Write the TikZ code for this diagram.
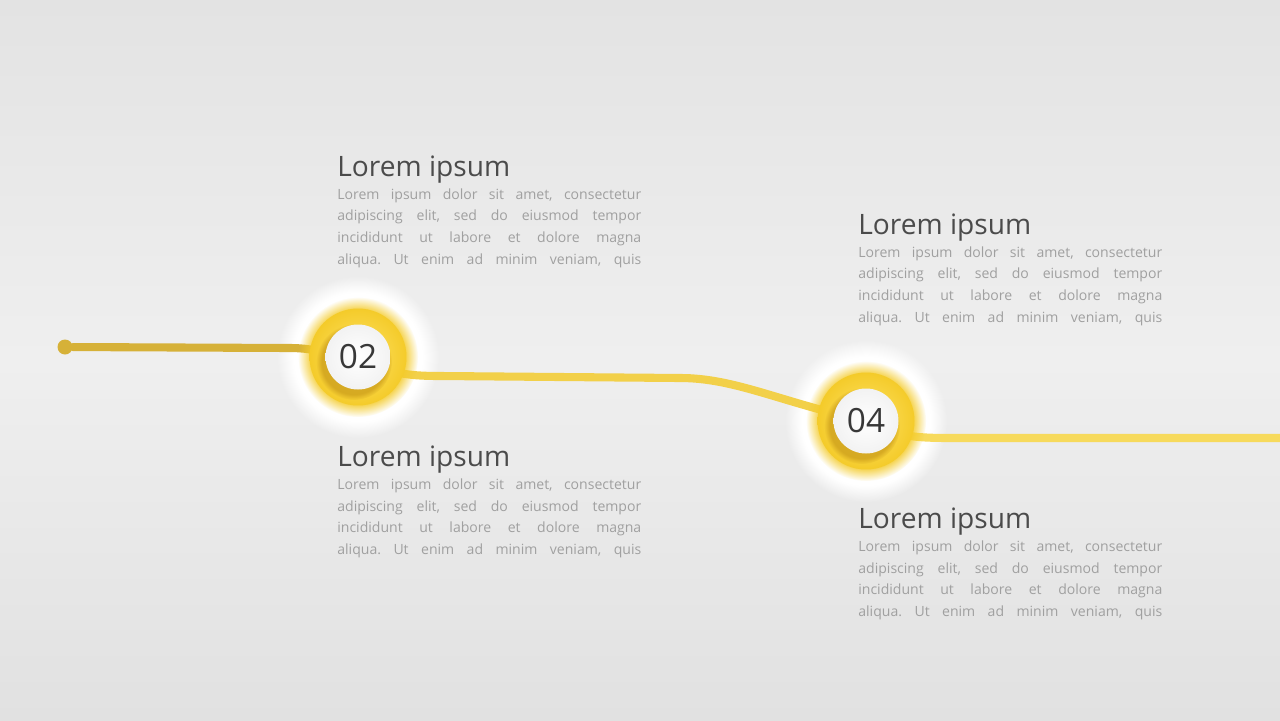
\documentclass[tikz,border=0pt]{standalone}
\usepackage{fontspec}
\setmainfont{Open Sans}
\frenchspacing
\usetikzlibrary{fadings}
\definecolor{bgtop}{HTML}{E3E3E3}
\definecolor{bgmid}{HTML}{EFEFEF}
\definecolor{bgbot}{HTML}{E1E1E1}
\definecolor{golddark}{HTML}{D6B138}
\definecolor{goldmid}{HTML}{F2D049}
\definecolor{goldlight}{HTML}{F7DA5C}
\definecolor{ringyel}{HTML}{F4CB2A}
\definecolor{ringhi}{HTML}{FFE46A}
\definecolor{ringshadow}{HTML}{C99A18}
\definecolor{headgray}{HTML}{4B4B4B}
\definecolor{bodygray}{HTML}{A0A0A0}
\definecolor{numgray}{HTML}{383838}

\begin{document}
\begin{tikzpicture}[x=0.02cm,y=-0.02cm,
    track/.style={line width=4.6pt, line cap=round},
    numdisc/.style={circle, minimum size=1.3cm, inner sep=0pt,
      inner color=white, outer color=gray!10, text=numgray,
      font=\fontsize{19}{19}\selectfont},
    head/.style={anchor=base west, inner sep=0pt, text=headgray,
      font=\fontsize{16}{16}\selectfont},
    body/.style={anchor=north west, inner sep=0pt, text width=6.08cm,
      align=justify, text=bodygray, font=\fontsize{8}{12.5}\selectfont}]
    \shade[top color=bgtop, bottom color=bgmid] (0,0) rectangle (1280,360);
    \shade[top color=bgmid, bottom color=bgbot] (0,360) rectangle (1280,720);
    \useasboundingbox (0,0) rectangle (1280,720);

    \coordinate (p02) at (358,357);
    \coordinate (p04) at (866,421);
    \coordinate (end) at (1280,438);

    \foreach \p in {p02,p04}
      \fill[white, path fading=circle with fuzzy edge 20 percent] (\p) circle[radius=1.62cm];

    \node[circle, fill=golddark, minimum size=0.3cm, inner sep=0pt] (start) at (65,347) {};
    \draw[track, golddark] (start) -- (290,348) .. controls (318,348) and (332,356) .. (p02);
    \draw[track, goldmid] (p02) .. controls (388,373) and (405,376) .. (440,376)
      -- (680,378) .. controls (735,378) and (780,402) .. (p04);
    \draw[track, goldlight] (p04) .. controls (896,436) and (912,438) .. (950,438) -- (end);

    \foreach \p in {p02,p04}{
      \fill[ringyel, opacity=0.8, path fading=circle with fuzzy edge 20 percent] (\p) circle[radius=1.2cm];
      \shade[inner color=ringhi, outer color=ringyel] (\p) circle[radius=0.97cm];
      \fill[ringshadow, opacity=0.7, path fading=circle with fuzzy edge 15 percent]
        ([shift={(-4,5)}]\p) circle[radius=0.76cm];
    }
    \node[numdisc] (n02) at (p02) {02};
    \node[numdisc] (n04) at (p04) {04};

    \node[head] (h1) at (337,176) {Lorem ipsum};
    \node[body] (b1) at (337,188) {Lorem ipsum dolor sit amet, consectetur\linebreak
      adipiscing elit, sed do eiusmod tempor\linebreak
      incididunt ut labore et dolore magna\linebreak
      aliqua. Ut enim ad minim veniam, quis\linebreak};
    \node[head] (h2) at (337,466) {Lorem ipsum};
    \node[body] (b2) at (337,478) {Lorem ipsum dolor sit amet, consectetur\linebreak
      adipiscing elit, sed do eiusmod tempor\linebreak
      incididunt ut labore et dolore magna\linebreak
      aliqua. Ut enim ad minim veniam, quis\linebreak};
    \node[head] (h3) at (858,234) {Lorem ipsum};
    \node[body] (b3) at (858,246) {Lorem ipsum dolor sit amet, consectetur\linebreak
      adipiscing elit, sed do eiusmod tempor\linebreak
      incididunt ut labore et dolore magna\linebreak
      aliqua. Ut enim ad minim veniam, quis\linebreak};
    \node[head] (h4) at (858,528) {Lorem ipsum};
    \node[body] (b4) at (858,540) {Lorem ipsum dolor sit amet, consectetur\linebreak
      adipiscing elit, sed do eiusmod tempor\linebreak
      incididunt ut labore et dolore magna\linebreak
      aliqua. Ut enim ad minim veniam, quis\linebreak};
\end{tikzpicture}
\end{document}
